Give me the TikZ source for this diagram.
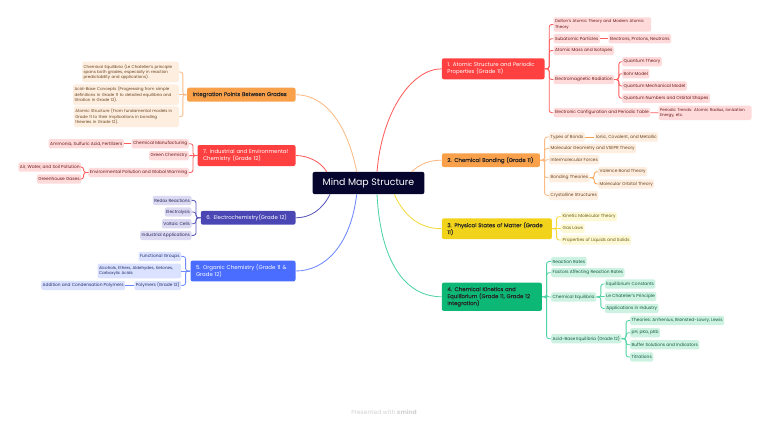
\documentclass[tikz,border=0pt]{standalone}
\usepackage{fontspec}
\setmainfont{Poppins}
\newfontfamily\medfont[FakeBold=0.2]{Poppins}
\usetikzlibrary{positioning, calc}
\definecolor{rootblue}{HTML}{05052E}
\definecolor{redmain}{HTML}{FF4040}
\definecolor{redleaf}{HTML}{FFDADA}
\definecolor{redtext}{HTML}{6B1A1A}
\definecolor{orgmain}{HTML}{F9A04B}
\definecolor{orgleaf}{HTML}{FDEEE0}
\definecolor{orgline}{HTML}{FBBB85}
\definecolor{orgtext}{HTML}{6B4420}
\definecolor{yelmain}{HTML}{F2D31B}
\definecolor{yelleaf}{HTML}{FDF8D6}
\definecolor{yeltext}{HTML}{6B5E10}
\definecolor{grnmain}{HTML}{0DB877}
\definecolor{grnleaf}{HTML}{CDF2E2}
\definecolor{grnline}{HTML}{4FD3A3}
\definecolor{grntext}{HTML}{0F5A3E}
\definecolor{indmain}{HTML}{4A47B5}
\definecolor{indleaf}{HTML}{DBDAF2}
\definecolor{indtext}{HTML}{25245A}
\definecolor{blumain}{HTML}{4A6CFF}
\definecolor{bluleaf}{HTML}{DBE2FF}
\definecolor{blutext}{HTML}{1F2D6B}

\begin{document}
\begin{tikzpicture}[
        x=1pt, y=-1pt,
        leaf/.style = {
            rectangle,
            rounded corners=2pt,
            inner xsep=1.5pt,
            inner ysep=0pt,
            minimum height=9.3pt,
            align=left,
            font=\fontsize{4.35}{5.3}\selectfont
        },
        longleaf/.style = {
            font=\fontsize{4.05}{5.3}\selectfont
        },
        rleaf/.style = {leaf, fill=redleaf, text=redtext, anchor=west},
        oleaf/.style = {leaf, fill=orgleaf, text=orgtext, anchor=west},
        yleaf/.style = {leaf, fill=yelleaf, text=yeltext, anchor=west},
        gleaf/.style = {leaf, fill=grnleaf, text=grntext, anchor=west},
        oleafl/.style = {leaf, fill=orgleaf, text=orgtext, anchor=east},
        rleafl/.style = {leaf, fill=redleaf, text=redtext, anchor=east},
        ileafl/.style = {leaf, fill=indleaf, text=indtext, anchor=east},
        bleafl/.style = {leaf, fill=bluleaf, text=blutext, anchor=east},
        topic/.style = {
            rectangle,
            rounded corners=2pt,
            inner xsep=5.5pt,
            inner ysep=0pt,
            align=left,
            font=\fontsize{5.4}{7}\selectfont
        },
        darktopic/.style = {
            topic,
            text=black!85,
            font=\medfont\fontsize{5.4}{7}\selectfont
        },
        rootnode/.style = {
            rectangle,
            rounded corners=2pt,
            fill=rootblue,
            text=white,
            minimum width=111.6pt,
            minimum height=22.3pt,
            font=\fontsize{9.4}{11}\selectfont
        },
        link/.style = {line width=0.85pt},
        twig/.style = {line width=0.85pt, rounded corners=2.5pt}
    ]

    \useasboundingbox (0,0) rectangle (768,421);

    % centre
    \node[rootnode] (root) at (368.5,183) {Mind Map Structure};

    % main topics, right side
    \node[topic, anchor=west, fill=redmain, text=white, text width=91.6pt, minimum height=21pt] (t1) at (441.7,68.8) {1. Atomic Structure and Periodic\\Properties (Grade 11)};
    \node[darktopic, anchor=west, fill=orgmain, text width=87pt, minimum height=13.7pt] (t2) at (441.7,160.2) {2. Chemical Bonding (Grade 11)};
    \node[darktopic, anchor=west, fill=yelmain, text width=99pt, minimum height=20.7pt] (t3) at (441.7,228.7) {3. Physical States of Matter (Grade\\11)};
    \node[darktopic, anchor=west, fill=grnmain, text width=89pt, minimum height=28.3pt] (t4) at (441.7,296.8) {4. Chemical Kinetics and\\Equilibrium (Grade 11, Grade 12\\Integration)};

    % main topics, left side
    \node[darktopic, anchor=east, fill=orgmain, text width=97.4pt, minimum height=14pt] (t8) at (295.7,94.7) {Integration Points Between Grades};
    \node[topic, anchor=east, fill=redmain, text=white, text width=87pt, minimum height=21pt] (t7) at (295.7,155.5) {7. Industrial and Environmental\\Chemistry (Grade 12)};
    \node[topic, anchor=east, fill=indmain, text=white, text width=83.7pt, minimum height=13.7pt] (t6) at (295.7,217.8) {6. Electrochemistry(Grade 12)};
    \node[topic, anchor=east, fill=blumain, text=white, text width=94pt, minimum height=20.7pt] (t5) at (295.7,271) {5. Organic Chemistry (Grade 11 \&\\Grade 12)};

    % 1
    \node[rleaf, longleaf, text width=94.7pt, minimum height=14.4pt] (a1) at (553.3,24.5) {Dalton's Atomic Theory and Modern Atomic\\Theory};
    \node[rleaf] (a2) at (553.3,38.7) {Subatomic Particles};
    \node[rleaf] (a21) at (608.3,38.7) {Electrons, Protons, Neutrons};
    \node[rleaf] (a3) at (553.3,50.5) {Atomic Mass and Isotopes};
    \node[rleaf] (a4) at (553.3,79.5) {Electromagnetic Radiation};
    \node[rleaf] (a41) at (622,61.7) {Quantum Theory};
    \node[rleaf] (a42) at (622,73.7) {Bohr Model};
    \node[rleaf] (a43) at (622,86) {Quantum Mechanical Model};
    \node[rleaf] (a44) at (622,98.3) {Quantum Numbers and Orbital Shapes};
    \node[rleaf] (a5) at (553.3,112.7) {Electronic Configuration and Periodic Table};
    \node[rleaf, longleaf, text width=90pt, minimum height=14.4pt] (a51) at (658.3,112.8) {Periodic Trends: Atomic Radius, Ionization\\Energy, etc.};

    % 2
    \node[oleaf] (b1) at (549,137) {Types of Bonds};
    \node[oleaf] (b11) at (594.3,137) {Ionic, Covalent, and Metallic};
    \node[oleaf] (b2) at (549,148.4) {Molecular Geometry and VSEPR Theory};
    \node[oleaf] (b3) at (549,159.7) {Intermolecular Forces};
    \node[oleaf] (b4) at (549,177.7) {Bonding Theories};
    \node[oleaf] (b41) at (598,171.7) {Valence Bond Theory};
    \node[oleaf] (b42) at (598,184) {Molecular Orbital Theory};
    \node[oleaf] (b5) at (549,195.4) {Crystalline Structures};

    % 3
    \node[yleaf] (c1) at (561,216.7) {Kinetic Molecular Theory};
    \node[yleaf] (c2) at (561,228.4) {Gas Laws};
    \node[yleaf] (c3) at (561,240) {Properties of Liquids and Solids};

    % 4
    \node[gleaf] (d1) at (551,261.4) {Reaction Rates};
    \node[gleaf] (d2) at (551,272.7) {Factors Affecting Reaction Rates};
    \node[gleaf] (d3) at (551,297) {Chemical Equilibria};
    \node[gleaf] (d31) at (604.7,284) {Equilibrium Constants};
    \node[gleaf] (d32) at (604.7,296.4) {Le Chatelier's Principle};
    \node[gleaf] (d33) at (604.7,308.4) {Applications in Industry};
    \node[gleaf] (d4) at (551,338.7) {Acid-Base Equilibria (Grade 12)};
    \node[gleaf] (d41) at (630,320.5) {Theories: Arrhenius, Brønsted-Lowry, Lewis};
    \node[gleaf] (d42) at (630,332.7) {pH, pKa, pKb};
    \node[gleaf] (d43) at (630,344.8) {Buffer Solutions and Indicators};
    \node[gleaf] (d44) at (630,357) {Titrations};

    % integration points
    \node[oleafl, longleaf, text width=93.7pt, minimum height=20.6pt] (h1) at (179,72) {Chemical Equilibria (Le Chatelier's principle\\spans both grades, especially in reaction\\predictability and applications).};
    \node[oleafl, longleaf, text width=102.7pt, minimum height=20.6pt] (h2) at (179,94.7) {Acid-Base Concepts (Progressing from simple\\definitions in Grade 11 to detailed equilibria and\\titration in Grade 12).};
    \node[oleafl, longleaf, text width=102pt, minimum height=20.6pt] (h3) at (179,116.7) {Atomic Structure (From fundamental models in\\Grade 11 to their implications in bonding\\theories in Grade 12).};

    % 7
    \node[rleafl] (g1) at (189,143.7) {Chemical Manufacturing};
    \node[rleafl] (g11) at (124,143.7) {Ammonia, Sulfuric Acid, Fertilizers};
    \node[rleafl] (g2) at (189,155.7) {Green Chemistry};
    \node[rleafl] (g3) at (189,172.5) {Environmental Pollution and Global Warming};
    \node[rleafl] (g31) at (81.3,167) {Air, Water, and Soil Pollution};
    \node[rleafl] (g32) at (81.3,179) {Greenhouse Gases};

    % 6
    \node[ileafl] (f1) at (191.7,200.4) {Redox Reactions};
    \node[ileafl] (f2) at (191.7,212) {Electrolysis};
    \node[ileafl] (f3) at (191.7,223.7) {Voltaic Cells};
    \node[ileafl] (f4) at (191.7,235.4) {Industrial Applications};

    % 5
    \node[bleafl] (e1) at (181.3,256.4) {Functional Groups};
    \node[bleafl, longleaf, text width=80.6pt, minimum height=14.6pt] (e2) at (181.3,271) {Alcohols, Ethers, Aldehydes, Ketones,\\Carboxylic Acids};
    \node[bleafl] (e3) at (181.3,285.4) {Polymers (Grade 12)};
    \node[bleafl] (e31) at (125.3,285.4) {Addition and Condensation Polymers};

    % footer
    \node[font=\fontsize{6}{7}\selectfont, text=black!18] (credit) at (384,412) {Presented with \textbf{xmind}};

    % from the centre to the main topics
    \draw[link, redmain!85] ([xshift=8.5pt]root.north) .. controls +(5,-60) and +(-30,0) .. (t1.west);
    \draw[link, orgline] ([xshift=43.2pt]root.north) .. controls +(8,-7) and +(-14,0) .. (t2.west);
    \draw[link, yelmain!85] ([xshift=25.8pt]root.south) .. controls +(10,22) and +(-22,0) .. (t3.west);
    \draw[link, grnline] ([xshift=8.5pt]root.south) .. controls +(4,75) and +(-32,0) .. (t4.west);
    \draw[link, orgline] ([xshift=-11.8pt]root.north) .. controls +(-10,-50) and +(28,0) .. (t8.east);
    \draw[link, redmain!85] ([xshift=-41.8pt]root.north) .. controls +(-6,-10) and +(12,0) .. (t7.east);
    \draw[link, indmain!90] ([xshift=-38.5pt]root.south) .. controls +(-8,16) and +(14,0) .. (t6.east);
    \draw[link, blumain!80] ([xshift=-11.8pt]root.south) .. controls +(-6,50) and +(30,0) .. (t5.east);

    % 1
    \draw[twig, redmain!85] (t1.east) -- ++(4.5,0) |- (a1.west);
    \draw[twig, redmain!85] (t1.east) -- ++(4.5,0) |- (a2.west);
    \draw[twig, redmain!85] (t1.east) -- ++(4.5,0) |- (a3.west);
    \draw[twig, redmain!85] (t1.east) -- ++(4.5,0) |- (a4.west);
    \draw[twig, redmain!85] (t1.east) -- ++(4.5,0) |- (a5.west);
    \draw[twig, redmain!85] (a2.east) -- (a21.west);
    \draw[twig, redmain!85] (a4.east) -- ++(4.5,0) |- (a41.west);
    \draw[twig, redmain!85] (a4.east) -- ++(4.5,0) |- (a42.west);
    \draw[twig, redmain!85] (a4.east) -- ++(4.5,0) |- (a43.west);
    \draw[twig, redmain!85] (a4.east) -- ++(4.5,0) |- (a44.west);
    \draw[twig, redmain!85] (a5.east) -- (a51.west);

    % 2
    \draw[twig, orgline] (t2.east) -- ++(4.5,0) |- (b1.west);
    \draw[twig, orgline] (t2.east) -- ++(4.5,0) |- (b2.west);
    \draw[twig, orgline] (t2.east) -- ++(4.5,0) |- (b3.west);
    \draw[twig, orgline] (t2.east) -- ++(4.5,0) |- (b4.west);
    \draw[twig, orgline] (t2.east) -- ++(4.5,0) |- (b5.west);
    \draw[twig, orgmain] (b1.east) -- (b11.west);
    \draw[twig, orgmain] (b4.east) -- ++(4.5,0) |- (b41.west);
    \draw[twig, orgmain] (b4.east) -- ++(4.5,0) |- (b42.west);

    % 3
    \draw[twig, yelmain!85] (t3.east) -- ++(4.5,0) |- (c1.west);
    \draw[twig, yelmain!85] (t3.east) -- (c2.west);
    \draw[twig, yelmain!85] (t3.east) -- ++(4.5,0) |- (c3.west);

    % 4
    \draw[twig, grnline] (t4.east) -- ++(4.5,0) |- (d1.west);
    \draw[twig, grnline] (t4.east) -- ++(4.5,0) |- (d2.west);
    \draw[twig, grnline] (t4.east) -- ++(4.5,0) |- (d3.west);
    \draw[twig, grnline] (t4.east) -- ++(4.5,0) |- (d4.west);
    \draw[twig, grnline] (d3.east) -- ++(4.5,0) |- (d31.west);
    \draw[twig, grnline] (d3.east) -- (d32.west);
    \draw[twig, grnline] (d3.east) -- ++(4.5,0) |- (d33.west);
    \draw[twig, grnline] (d4.east) -- ++(4.5,0) |- (d41.west);
    \draw[twig, grnline] (d4.east) -- ++(4.5,0) |- (d42.west);
    \draw[twig, grnline] (d4.east) -- ++(4.5,0) |- (d43.west);
    \draw[twig, grnline] (d4.east) -- ++(4.5,0) |- (d44.west);

    % integration points
    \draw[twig, orgline] (t8.west) -- ++(-4,0) |- (h1.east);
    \draw[twig, orgline] (t8.west) -- (h2.east);
    \draw[twig, orgline] (t8.west) -- ++(-4,0) |- (h3.east);

    % 7
    \draw[twig, redmain!85] (t7.west) -- ++(-4.3,0) |- (g1.east);
    \draw[twig, redmain!85] (t7.west) -- (g2.east);
    \draw[twig, redmain!85] (t7.west) -- ++(-4.3,0) |- (g3.east);
    \draw[twig, redmain!85] (g1.west) -- (g11.east);
    \draw[twig, redmain!85] (g3.west) -- ++(-4.7,0) |- (g31.east);
    \draw[twig, redmain!85] (g3.west) -- ++(-4.7,0) |- (g32.east);

    % 6
    \draw[twig, indmain!90] (t6.west) -- ++(-4.6,0) |- (f1.east);
    \draw[twig, indmain!90] (t6.west) -- ++(-4.6,0) |- (f2.east);
    \draw[twig, indmain!90] (t6.west) -- ++(-4.6,0) |- (f3.east);
    \draw[twig, indmain!90] (t6.west) -- ++(-4.6,0) |- (f4.east);

    % 5
    \draw[twig, blumain!80] (t5.west) -- ++(-4.7,0) |- (e1.east);
    \draw[twig, blumain!80] (t5.west) -- (e2.east);
    \draw[twig, blumain!80] (t5.west) -- ++(-4.7,0) |- (e3.east);
    \draw[twig, blumain!80] (e3.west) -- (e31.east);

\end{tikzpicture}
\end{document}
